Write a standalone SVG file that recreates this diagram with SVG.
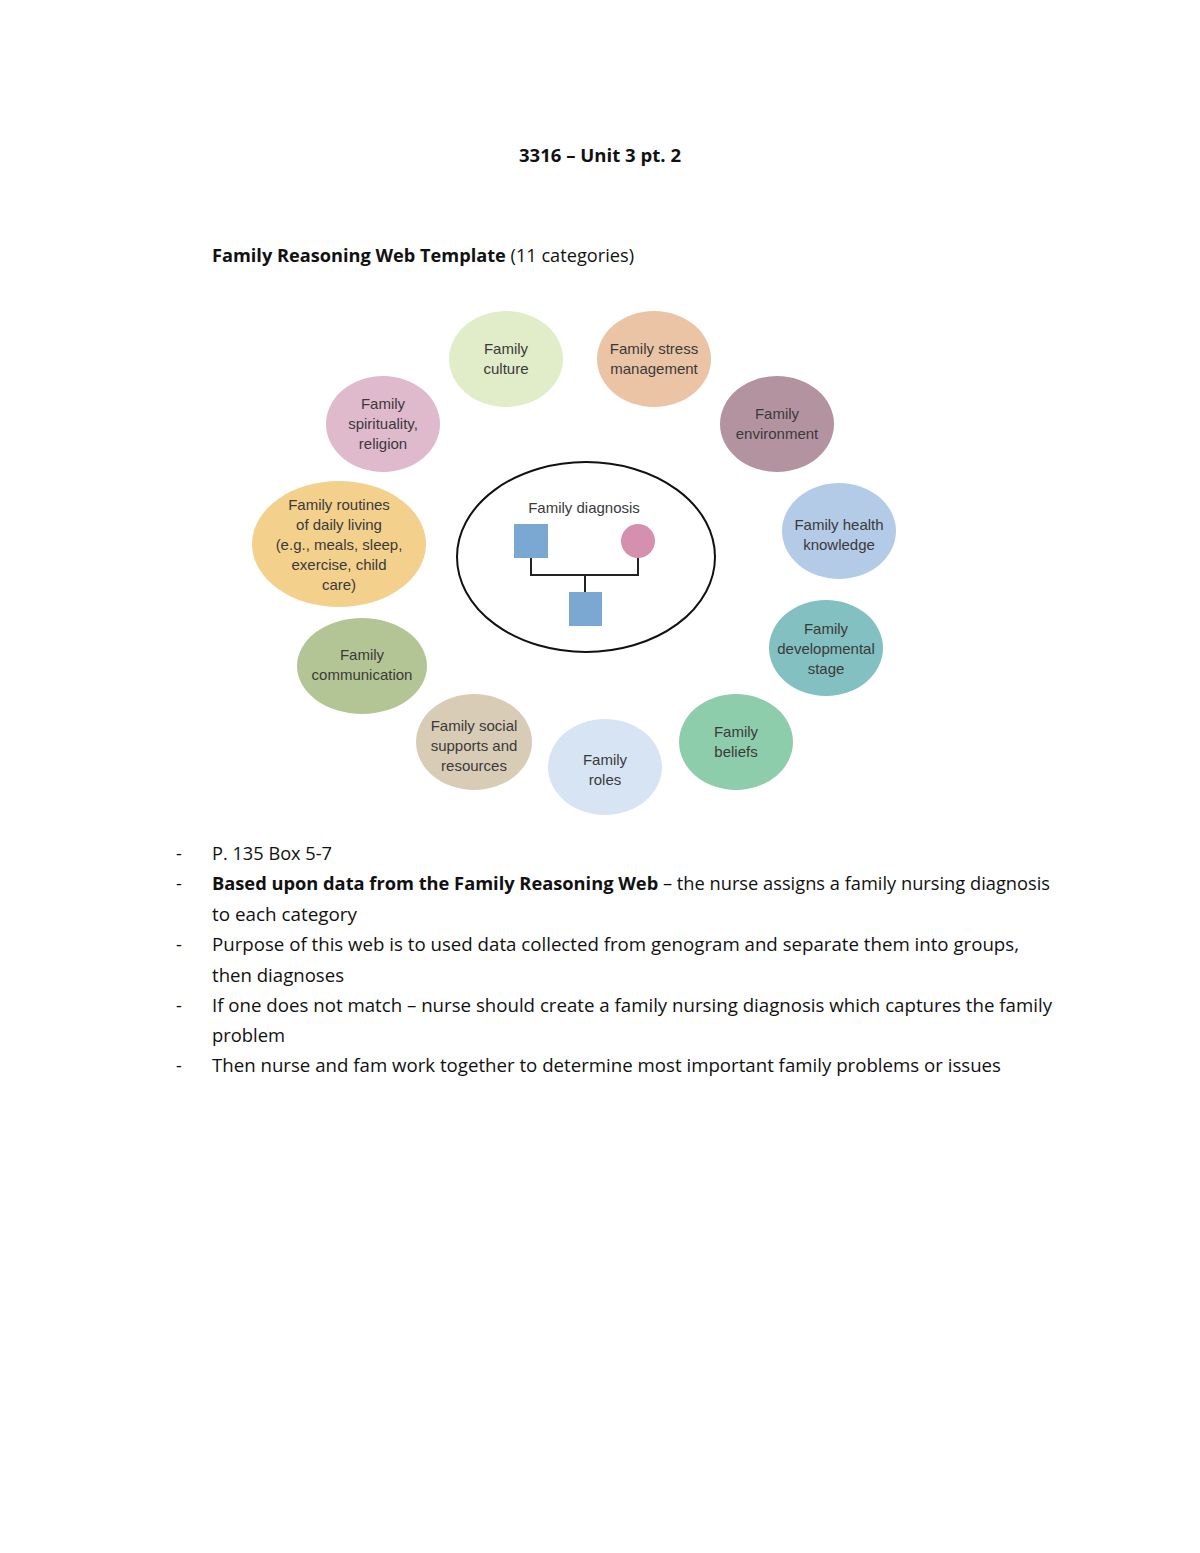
<svg xmlns="http://www.w3.org/2000/svg" width="1200" height="1553" viewBox="0 0 1200 1553">
<style>
.doc{font-family:"Open Sans","Liberation Sans",sans-serif;font-size:18px;fill:#111}
.b{font-weight:bold}
.n{font-family:"Liberation Sans",Arial,sans-serif;font-size:15px;fill:#3a3a3a;text-anchor:middle}
</style>
<rect width="1200" height="1553" fill="#fff"/>
<text class="doc b" x="600" y="162" text-anchor="middle" textLength="162" lengthAdjust="spacingAndGlyphs">3316 – Unit 3 pt. 2</text>
<text class="doc" x="212" y="262" textLength="422" lengthAdjust="spacingAndGlyphs"><tspan class="b">Family Reasoning Web Template</tspan> (11 categories)</text>

<g id="center">
<ellipse cx="586" cy="557" rx="129" ry="95" fill="#fff" stroke="#111" stroke-width="2"/>
<text class="n" x="584" y="513">Family diagnosis</text>
<rect x="514" y="524" width="34" height="34" fill="#7ba7d3"/>
<circle cx="638" cy="541" r="17" fill="#d58faf"/>
<rect x="569" y="592" width="33" height="34" fill="#7ba7d3"/>
</g>
<g id="connectors" fill="none" stroke="#222" stroke-width="2">
<path d="M531 558 V575 H638 V558"/>
<path d="M585 575 V592"/>
</g>

<g id="culture"><ellipse cx="506" cy="359" rx="57" ry="48" fill="#e1ecc8"/><text class="n" x="506" y="354">Family</text><text class="n" x="506" y="374">culture</text></g>
<g id="stress"><ellipse cx="654" cy="359" rx="57" ry="48" fill="#eac4a5"/><text class="n" x="654" y="354">Family stress</text><text class="n" x="654" y="374">management</text></g>
<g id="spirituality"><ellipse cx="383" cy="424" rx="57" ry="48" fill="#dfb9cc"/><text class="n" x="383" y="409">Family</text><text class="n" x="383" y="429">spirituality,</text><text class="n" x="383" y="449">religion</text></g>
<g id="environment"><ellipse cx="777" cy="424" rx="57" ry="48" fill="#b493a1"/><text class="n" x="777" y="419">Family</text><text class="n" x="777" y="439">environment</text></g>
<g id="routines"><ellipse cx="339" cy="544" rx="87" ry="63" fill="#f3d18d"/><text class="n" x="339" y="510">Family routines</text><text class="n" x="339" y="530">of daily living</text><text class="n" x="339" y="550">(e.g., meals, sleep,</text><text class="n" x="339" y="570">exercise, child</text><text class="n" x="339" y="590">care)</text></g>
<g id="health"><ellipse cx="839" cy="531" rx="57" ry="48" fill="#b4cbe7"/><text class="n" x="839" y="530">Family health</text><text class="n" x="839" y="550">knowledge</text></g>
<g id="communication"><ellipse cx="362" cy="666" rx="65" ry="48" fill="#b4c595"/><text class="n" x="362" y="660">Family</text><text class="n" x="362" y="680">communication</text></g>
<g id="developmental"><ellipse cx="826" cy="648" rx="57" ry="48" fill="#82c0c1"/><text class="n" x="826" y="634">Family</text><text class="n" x="826" y="654">developmental</text><text class="n" x="826" y="674">stage</text></g>
<g id="social"><ellipse cx="474" cy="742" rx="58" ry="48" fill="#d9ccb6"/><text class="n" x="474" y="731">Family social</text><text class="n" x="474" y="751">supports and</text><text class="n" x="474" y="771">resources</text></g>
<g id="roles"><ellipse cx="605" cy="767" rx="57" ry="48" fill="#d7e4f4"/><text class="n" x="605" y="765">Family</text><text class="n" x="605" y="785">roles</text></g>
<g id="beliefs"><ellipse cx="736" cy="742" rx="57" ry="48" fill="#8dcdab"/><text class="n" x="736" y="737">Family</text><text class="n" x="736" y="757">beliefs</text></g>

<g id="bullets" class="doc">
<text x="176" y="860">-</text><text x="212" y="860" textLength="120" lengthAdjust="spacingAndGlyphs">P. 135 Box 5-7</text>
<text x="176" y="890">-</text><text x="212" y="890" textLength="838" lengthAdjust="spacingAndGlyphs"><tspan class="b">Based upon data from the Family Reasoning Web</tspan> – the nurse assigns a family nursing diagnosis</text>
<text x="212" y="921" textLength="145" lengthAdjust="spacingAndGlyphs">to each category</text>
<text x="176" y="951">-</text><text x="212" y="951" textLength="807" lengthAdjust="spacingAndGlyphs">Purpose of this web is to used data collected from genogram and separate them into groups,</text>
<text x="212" y="982" textLength="132" lengthAdjust="spacingAndGlyphs">then diagnoses</text>
<text x="176" y="1012">-</text><text x="212" y="1012" textLength="840" lengthAdjust="spacingAndGlyphs">If one does not match – nurse should create a family nursing diagnosis which captures the family</text>
<text x="212" y="1042" textLength="73" lengthAdjust="spacingAndGlyphs">problem</text>
<text x="176" y="1072">-</text><text x="212" y="1072" textLength="789" lengthAdjust="spacingAndGlyphs">Then nurse and fam work together to determine most important family problems or issues</text>
</g>
</svg>
